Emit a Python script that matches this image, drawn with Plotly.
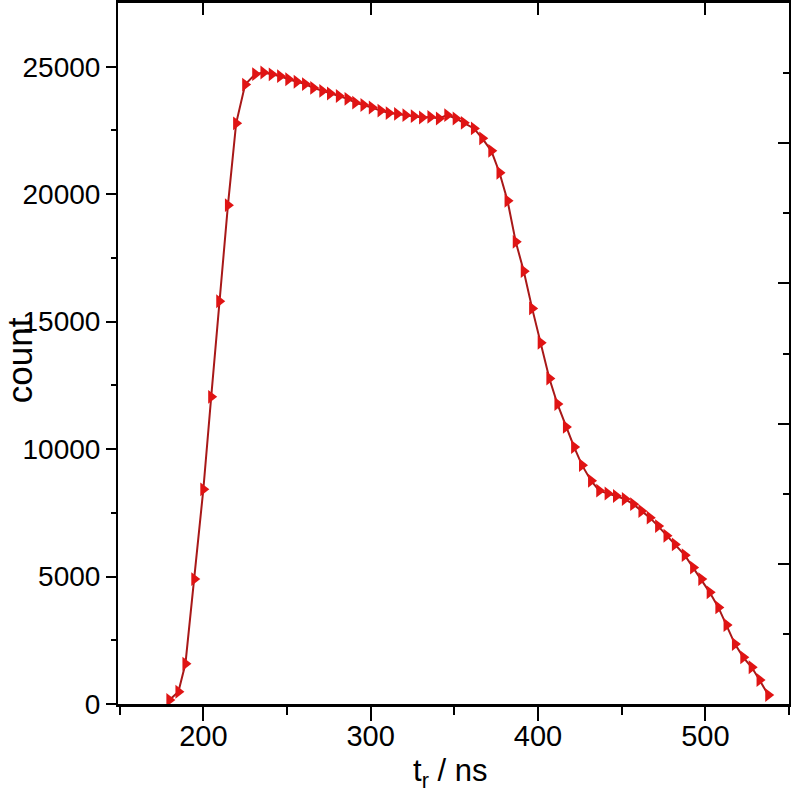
import plotly.graph_objects as go

# measured data (t_r in ns, count)
t_r = [179.7, 185.1, 189.3, 194.6, 200.0, 204.7, 209.5, 214.7, 219.6, 225.0,
       231.0, 235.9, 240.9, 245.9, 250.8, 255.8, 260.8, 265.7, 271.1, 275.7,
       281.0, 286.2, 290.8, 295.7, 300.7, 305.9, 310.8, 315.8, 320.8, 325.8,
       330.7, 335.7, 340.8, 345.8, 350.8, 355.7, 361.7, 366.7, 372.1, 377.0,
       381.8, 386.7, 391.5, 396.5, 401.6, 406.8, 411.6, 416.7, 421.6, 426.3,
       431.7, 436.6, 441.6, 446.6, 451.9, 456.9, 461.8, 466.8, 471.8, 476.8,
       481.8, 487.7, 492.7, 497.6, 502.6, 507.8, 512.7, 517.7, 522.7, 527.7,
       532.4, 537.6]
counts = [160, 480, 1580, 4900, 8420, 12050, 15800, 19570, 22780, 24300,
          24710, 24775, 24700, 24630, 24510, 24410, 24320, 24170, 24050, 23950,
          23850, 23740, 23590, 23500, 23400, 23280, 23180, 23150, 23100, 23060,
          23010, 23030, 22970, 23100, 22970, 22800, 22580, 22190, 21700, 20840,
          19740, 18130, 16980, 15520, 14170, 12770, 11770, 10870, 10080, 9370,
          8760, 8370, 8260, 8160, 8040, 7840, 7570, 7310, 6980, 6600,
          6260, 5840, 5350, 4900, 4380, 3790, 3100, 2350, 1830, 1440,
          940, 350]

x_ticks = [200, 300, 400, 500]
x_minor = [150, 250, 350, 450, 550]
y_ticks = [0, 5000, 10000, 15000, 20000, 25000]
y_minor = [2500, 7500, 12500, 17500, 22500]
right_major = [0, 2, 4, 6, 8, 10]
right_minor = [1, 3, 5, 7, 9]

FONT = "Liberation Sans, Arial, sans-serif"

fig = go.Figure()
fig.add_trace(go.Scatter(
    x=t_r, y=counts, mode="lines+markers",
    line=dict(color="#a81818", width=2),
    marker=dict(symbol="triangle-right", size=12, color="#e01414",
                line=dict(width=0)),
    showlegend=False, hoverinfo="skip"))
fig.add_trace(go.Scatter(x=[None], y=[None], xaxis="x2", yaxis="y2",
                         showlegend=False, hoverinfo="skip"))

fig.update_layout(
    width=793, height=793,
    margin=dict(l=117.5, r=3.7, t=3.3, b=89),
    paper_bgcolor="white", plot_bgcolor="white",
    font=dict(family=FONT, color="black"),
    xaxis=dict(range=[149, 550], tickvals=x_ticks, ticktext=[str(v) for v in x_ticks],
               ticks="outside", ticklen=14, tickwidth=2, tickcolor="black",
               minor=dict(tickvals=x_minor, ticks="outside", ticklen=8, tickwidth=2,
                          tickcolor="black"),
               showline=True, linewidth=2.5, linecolor="black",
               showgrid=False, zeroline=False, ticklabelstandoff=-10,
               tickfont=dict(size=29, family=FONT)),
    yaxis=dict(range=[0, 27500], tickvals=y_ticks, ticktext=[str(v) for v in y_ticks],
               ticks="outside", ticklen=10, tickwidth=2, tickcolor="black",
               minor=dict(tickvals=y_minor, ticks="outside", ticklen=5, tickwidth=2,
                          tickcolor="black"),
               showline=True, linewidth=2, linecolor="black",
               showgrid=False, zeroline=False,
               tickfont=dict(size=28, family=FONT)),
    xaxis2=dict(overlaying="x", side="top", anchor="y", range=[149, 550],
                tickvals=x_ticks, ticks="inside", ticklen=12, tickwidth=2,
                tickcolor="black", showticklabels=False,
                showline=True, linewidth=2.5, linecolor="black",
                showgrid=False, zeroline=False),
    yaxis2=dict(overlaying="y", side="right", anchor="x", range=[0, 10],
                tickvals=right_major, ticks="inside", ticklen=11, tickwidth=2,
                tickcolor="black", showticklabels=False,
                minor=dict(tickvals=right_minor, ticks="inside", ticklen=6,
                           tickwidth=2, tickcolor="black"),
                showline=True, linewidth=2, linecolor="black",
                showgrid=False, zeroline=False),
    annotations=[
        dict(text="count", xref="paper", yref="paper", x=-0.147, y=0.491,
             textangle=-90, showarrow=False, font=dict(size=35, family=FONT),
             xanchor="center", yanchor="middle"),
        dict(text="t<sub>r</sub> / ns", xref="paper", yref="paper", x=0.495, y=-0.099,
             showarrow=False, font=dict(size=31, family=FONT),
             xanchor="center", yanchor="middle"),
    ],
)

fig.write_html("out.html")
